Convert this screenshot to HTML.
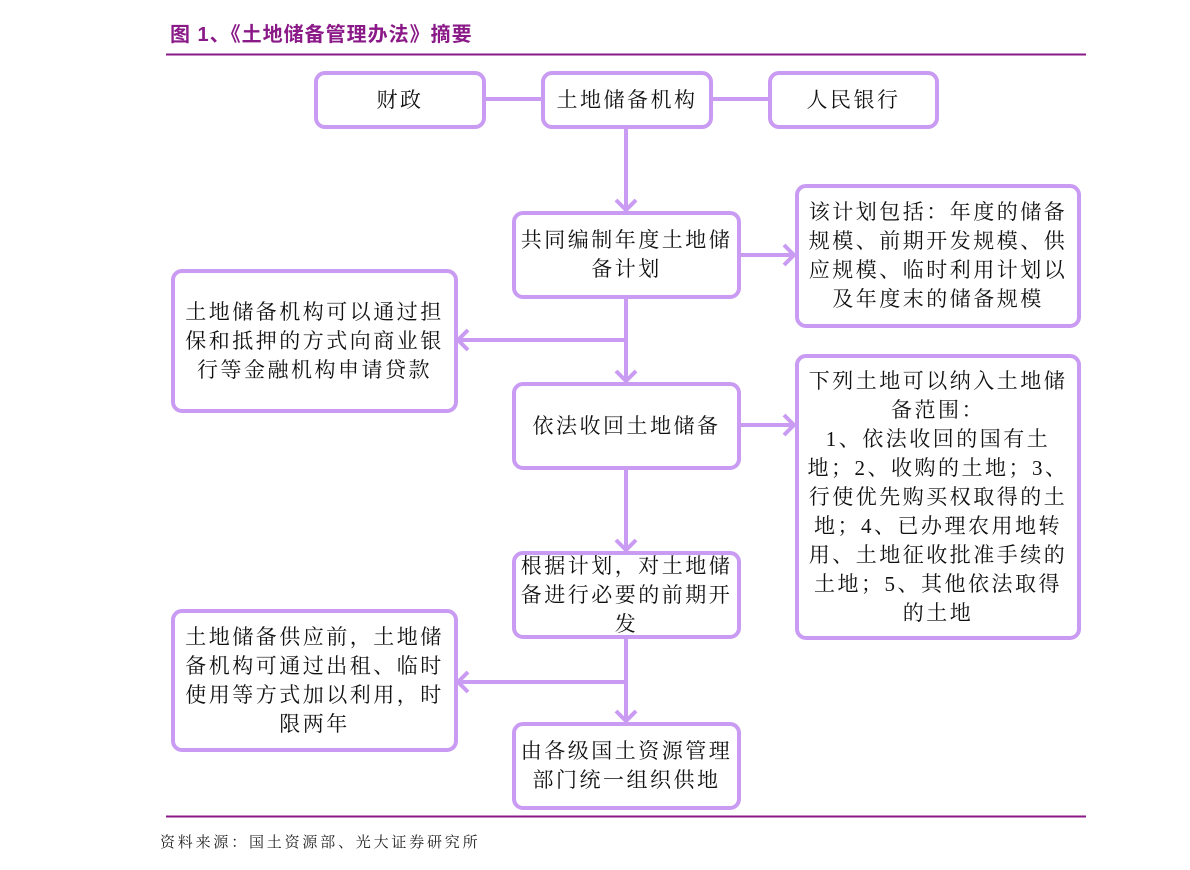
<!DOCTYPE html>
<html><head><meta charset="utf-8"><style>
body{margin:0;background:#fff;}
#c{position:relative;width:1190px;height:870px;overflow:hidden;font-family:"Liberation Serif","Noto Serif CJK SC",serif;}
.b{position:absolute;box-sizing:border-box;border:4px solid #c99bf2;border-radius:11px;background:#fff;display:flex;align-items:center;justify-content:center;text-align:center;font-size:21px;line-height:29px;letter-spacing:2.5px;color:#111;white-space:nowrap;}
.t{position:absolute;left:170px;top:18px;font-family:"Liberation Sans","Noto Sans CJK SC",sans-serif;font-weight:bold;font-size:20px;letter-spacing:1px;color:#8b1a89;}
.s{position:absolute;left:160px;top:831px;font-size:15px;letter-spacing:2.8px;color:#222;}
</style></head><body><div id="c">
<div class="t">图 1、《土地储备管理办法》摘要</div>
<svg width="1190" height="870" style="position:absolute;left:0;top:0">
<line x1="166" y1="54.5" x2="1086" y2="54.5" stroke="#8b1a89" stroke-width="2"/>
<line x1="166" y1="816.5" x2="1086" y2="816.5" stroke="#8b1a89" stroke-width="2"/>
<g stroke="#c99bf2" stroke-width="4" fill="none">
<line x1="485" y1="99" x2="768" y2="99"/>
<line x1="626" y1="128" x2="626" y2="723"/>
<polyline points="616,200 626,210 636,200"/>
<polyline points="616,371 626,381 636,371"/>
<polyline points="616,711 626,721 636,711"/>
<polyline points="616,540 626,550 636,540"/>
<line x1="740" y1="255" x2="794" y2="255"/><polyline points="784,245 794,255 784,265"/>
<line x1="740" y1="425" x2="794" y2="425"/><polyline points="784,415 794,425 784,435"/>
<line x1="626" y1="340" x2="458" y2="340"/><polyline points="468,330 458,340 468,350"/>
<line x1="626" y1="682" x2="458" y2="682"/><polyline points="468,672 458,682 468,692"/>
</g></svg>
<div class="b" style="left:314px;top:71px;width:172px;height:58px">财政</div>
<div class="b" style="left:541px;top:71px;width:172px;height:58px">土地储备机构</div>
<div class="b" style="left:768px;top:71px;width:171px;height:58px">人民银行</div>
<div class="b" style="left:512px;top:211px;width:229px;height:88px">共同编制年度土地储<br>备计划</div>
<div class="b" style="left:795px;top:184px;width:286px;height:144px">该计划包括：年度的储备<br>规模、前期开发规模、供<br>应规模、临时利用计划以<br>及年度末的储备规模</div>
<div class="b" style="left:171px;top:269px;width:287px;height:144px">土地储备机构可以通过担<br>保和抵押的方式向商业银<br>行等金融机构申请贷款</div>
<div class="b" style="left:512px;top:382px;width:229px;height:88px">依法收回土地储备</div>
<div class="b" style="left:795px;top:354px;width:286px;height:286px">下列土地可以纳入土地储<br>备范围：<br>1、依法收回的国有土<br>地；2、收购的土地；3、<br>行使优先购买权取得的土<br>地；4、已办理农用地转<br>用、土地征收批准手续的<br>土地；5、其他依法取得<br>的土地</div>
<div class="b" style="left:512px;top:551px;width:229px;height:88px">根据计划，对土地储<br>备进行必要的前期开<br>发</div>
<div class="b" style="left:171px;top:609px;width:287px;height:143px">土地储备供应前，土地储<br>备机构可通过出租、临时<br>使用等方式加以利用，时<br>限两年</div>
<div class="b" style="left:512px;top:722px;width:229px;height:88px">由各级国土资源管理<br>部门统一组织供地</div>
<div class="s">资料来源：国土资源部、光大证券研究所</div>
</div></body></html>
